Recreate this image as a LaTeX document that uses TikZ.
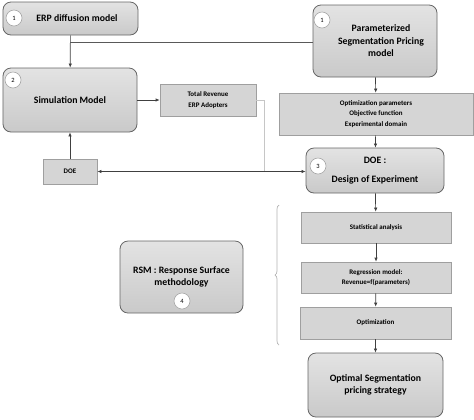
\documentclass[tikz,border=0pt]{standalone}
\usepackage{fontspec}
\setmainfont{Carlito}
\usetikzlibrary{calc}
\usetikzlibrary{shapes}
\usetikzlibrary{arrows.meta}
\usetikzlibrary{decorations.pathreplacing}
\tikzset{
  rbox/.style={draw=gray!80!black, line width=0.8bp, rounded corners=8bp, top color=gray!22, bottom color=gray!42, align=center, inner sep=0pt, font=\bfseries\fontsize{9.8}{12.5}\selectfont},
  sbox/.style={draw=gray!75, line width=0.7bp, fill=gray!33, align=center, inner sep=0pt, font=\bfseries\fontsize{7}{10.8}\selectfont},
  numc/.style={circle, draw=gray!70, line width=0.6bp, fill=white, minimum size=16bp, inner sep=0pt, font=\fontsize{6.5}{7}\selectfont},
  arr/.style={-{Latex[length=4bp,width=3.5bp]}, line width=0.7bp, draw=black!75},
  lin/.style={line width=0.7bp, draw=black!65},
}
\newcommand{\numat}[4]{\node[numc] (#1) at (#2,#3) {#4};}
\begin{document}
\begin{tikzpicture}[x=1bp,y=-1bp]
        \useasboundingbox (0,0) rectangle (474,419);
        % left column
        \node[rbox, minimum width=135bp, minimum height=33bp] (erp) at (70.5,18.5) {\hspace*{13bp}ERP diffusion model};
        \node[rbox, minimum width=134bp, minimum height=64bp] (sim) at (70,100) {Simulation Model};
        \node[sbox, minimum width=54bp, minimum height=25bp] (doe) at (70,171.5) {DOE};
        \node[sbox, minimum width=96bp, minimum height=32bp] (rev) at (208,100) {Total Revenue\\ERP Adopters};
        \node[rbox, minimum width=123bp, minimum height=72bp] (rsm) at (181.5,277) {RSM : Response Surface\\methodology};
        % right column
        \node[rbox, minimum width=124bp, minimum height=72bp] (param) at (375,41) {\hspace*{12bp}Parameterized\\\hspace*{12bp}Segmentation Pricing\\\hspace*{12bp}model};
        \node[sbox, minimum width=194bp, minimum height=42bp] (opar) at (376,114) {Optimization parameters\\Objective function\\Experimental domain};
        \node[rbox, minimum width=138bp, minimum height=45bp] (dod) at (375,170.5) {DOE :\\[7bp]Design of Experiment};
        \node[sbox, minimum width=150bp, minimum height=31bp] (stat) at (376,227.5) {Statistical analysis};
        \node[sbox, minimum width=150bp, minimum height=31bp] (reg) at (376,277.5) {Regression model:\\Revenue=f(parameters)};
        \node[sbox, minimum width=151bp, minimum height=32bp] (opt) at (375.5,323) {Optimization};
        \node[rbox, minimum width=135bp, minimum height=64bp] (best) at (375.5,385) {Optimal Segmentation\\pricing strategy};
        % numbers
        \numat{n1a}{14}{18}{1}
        \numat{n1b}{322}{20}{1}
        \numat{n2}{13}{80}{2}
        \numat{n3}{318}{166}{3}
        \numat{n4}{182}{301}{4}
        % links
        \coordinate (split) at (70,42);
        \coordinate (bend) at (264,100);
        \coordinate (join) at (264,171);
        \draw[arr] (erp) -- (sim);
        \draw[lin] (split) -- (split -| param.west);
        \draw[arr] (sim) -- (rev);
        \draw[lin, draw=gray!45] (rev.east) -- (bend) -- (join);
        \draw[arr, {Latex[length=4bp,width=3.5bp]}-{Latex[length=4bp,width=3.5bp]}] (doe) -- (doe -| dod.west);
        \draw[arr] (doe) -- (sim);
        \draw[arr] (param) -- (opar);
        \draw[arr] (opar) -- (dod);
        \draw[arr] (dod) -- (stat);
        \draw[arr] (stat) -- (reg);
        \draw[arr] (reg) -- (opt);
        \draw[arr] (opt) -- (best);
        % brace
        \coordinate (btop) at (279,205);
        \coordinate (bbot) at (279,345);
        \draw[gray!60, line width=0.7bp, decorate, decoration={brace, amplitude=4bp}] (bbot) -- (btop);
\end{tikzpicture}
\end{document}
